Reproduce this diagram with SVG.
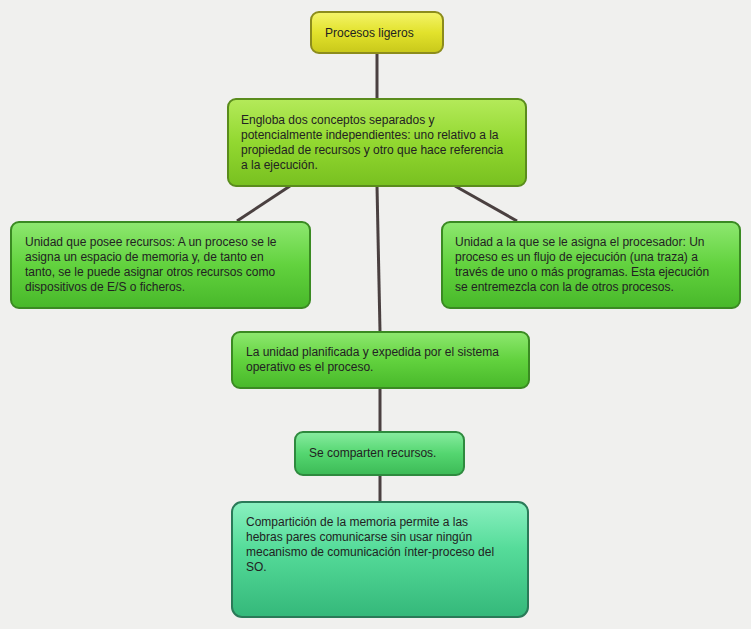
<svg xmlns="http://www.w3.org/2000/svg" width="751" height="629" viewBox="0 0 751 629">
<defs>
<linearGradient id="gy" x1="0" y1="0" x2="0" y2="1"><stop offset="0" stop-color="#f4f46a"/><stop offset="0.5" stop-color="#e2e22c"/><stop offset="1" stop-color="#c8c81a"/></linearGradient>
<linearGradient id="g1" x1="0" y1="0" x2="0" y2="1"><stop offset="0" stop-color="#b4ea5a"/><stop offset="0.5" stop-color="#92d830"/><stop offset="1" stop-color="#78c020"/></linearGradient>
<linearGradient id="g2" x1="0" y1="0" x2="0" y2="1"><stop offset="0" stop-color="#8ee870"/><stop offset="0.5" stop-color="#62d23e"/><stop offset="1" stop-color="#48b82a"/></linearGradient>
<linearGradient id="g3" x1="0" y1="0" x2="0" y2="1"><stop offset="0" stop-color="#88eca0"/><stop offset="0.5" stop-color="#54d670"/><stop offset="1" stop-color="#3cba56"/></linearGradient>
<linearGradient id="g4" x1="0" y1="0" x2="0" y2="1"><stop offset="0" stop-color="#8af0c0"/><stop offset="0.4" stop-color="#56dc9a"/><stop offset="1" stop-color="#34b87a"/></linearGradient>
</defs>
<style>
text{font-family:"Liberation Sans",Arial,sans-serif;font-size:12px;fill:#222}
.n{stroke-width:2}
.c line{stroke:#4a4040;stroke-width:3}
</style>
<rect width="751" height="629" fill="#f0f0ee"/>
<g class="c">
<line x1="377" y1="53" x2="377" y2="98"/>
<line x1="290" y1="186" x2="237" y2="221"/>
<line x1="455" y1="186" x2="517" y2="221"/>
<line x1="377" y1="186" x2="380" y2="331"/>
<line x1="380" y1="388" x2="380" y2="431"/>
<line x1="380" y1="475" x2="380" y2="501"/>
</g>
<g id="n1"><rect class="n" x="311" y="12" width="132" height="41" rx="8" fill="url(#gy)" stroke="#8c8c1c"/><text x="325" y="37">Procesos ligeros</text></g>
<g id="n2"><rect class="n" x="228" y="99" width="298" height="87" rx="8" fill="url(#g1)" stroke="#5a8c1c"/><text x="241" y="124">Engloba dos conceptos separados y</text><text x="241" y="139">potencialmente independientes: uno relativo a la</text><text x="241" y="154">propiedad de recursos y otro que hace referencia</text><text x="241" y="169">a la ejecución.</text></g>
<g id="n3"><rect class="n" x="11" y="222" width="299" height="86" rx="8" fill="url(#g2)" stroke="#3a8a22"/><text x="25" y="246">Unidad que posee recursos: A un proceso se le</text><text x="25" y="261">asigna un espacio de memoria y, de tanto en</text><text x="25" y="276">tanto, se le puede asignar otros recursos como</text><text x="25" y="291">dispositivos de E/S o ficheros.</text></g>
<g id="n4"><rect class="n" x="442" y="222" width="298" height="86" rx="8" fill="url(#g2)" stroke="#3a8a22"/><text x="455" y="246">Unidad a la que se le asigna el procesador: Un</text><text x="455" y="261">proceso es un flujo de ejecución (una traza) a</text><text x="455" y="276">través de uno o más programas. Esta ejecución</text><text x="455" y="291">se entremezcla con la de otros procesos.</text></g>
<g id="n5"><rect class="n" x="232" y="332" width="297" height="56" rx="8" fill="url(#g2)" stroke="#3a8a22"/><text x="246" y="356">La unidad planificada y expedida por el sistema</text><text x="246" y="371">operativo es el proceso.</text></g>
<g id="n6"><rect class="n" x="295" y="432" width="169" height="43" rx="8" fill="url(#g3)" stroke="#2e8a3e"/><text x="309" y="457">Se comparten recursos.</text></g>
<g id="n7"><rect class="n" x="232" y="502" width="296" height="115" rx="10" fill="url(#g4)" stroke="#2a7a58"/><text x="246" y="526"> Compartición de la memoria permite a las</text><text x="246" y="541">hebras pares comunicarse sin usar ningún</text><text x="246" y="556">mecanismo de comunicación ínter-proceso del</text><text x="246" y="571">SO.</text></g>
</svg>
